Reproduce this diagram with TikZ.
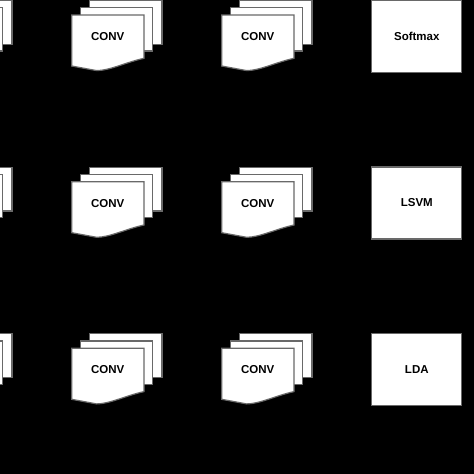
\documentclass[tikz,border=0pt]{standalone}
\usepackage{fontspec}
\setmainfont{Liberation Sans}
\usepackage{xcolor}
\definecolor{edgegray}{RGB}{105,105,105}

\tikzset{
  page/.style={draw=edgegray, fill=white, line width=1.2pt},
  convlabel/.style={font=\bfseries\fontsize{11.5}{13}\selectfont, inner sep=0pt},
  clfbox/.style={draw=edgegray, fill=white, line width=1.2pt, minimum width=90pt, minimum height=72pt, inner sep=0pt, font=\bfseries\fontsize{11.5}{13}\selectfont}
}

\begin{document}
\begin{tikzpicture}[x=1pt, y=-1pt]
\useasboundingbox (0,0) rectangle (474,474);
\fill[black] (0,0) rectangle (474,474);

% stacked conv pages, three per row (the first one runs off the left edge)
\foreach \row/\ty in {a/15, b/181.7, c/348.3} {
  \foreach \col/\lx in {0/-78.3, 1/71.7, 2/221.7} {
    \draw[page] (\lx+18,\ty-14.5) rectangle (\lx+90.3,\ty+29.3);
    \draw[page] (\lx+9,\ty-7.3) rectangle (\lx+81,\ty+36);
    \draw[page] (\lx,\ty) -- (\lx+72.3,\ty) -- (\lx+72.3,\ty+43.3)
      .. controls (\lx+55,\ty+47) and (\lx+38,\ty+55.6) .. (\lx+25,\ty+55.6)
      -- (\lx,\ty+51) -- cycle;
  }
  \foreach \col/\lx in {1/71.7, 2/221.7}
    \node[convlabel] (conv-\row\col) at (\lx+36,\ty+21.6) {CONV};
}

\node[clfbox] (softmax) at (416.8,36.2) {Softmax};
\node[clfbox] (lsvm) at (416.8,202.9) {LSVM};
\node[clfbox] (lda) at (416.8,369.2) {LDA};
\end{tikzpicture}
\end{document}
